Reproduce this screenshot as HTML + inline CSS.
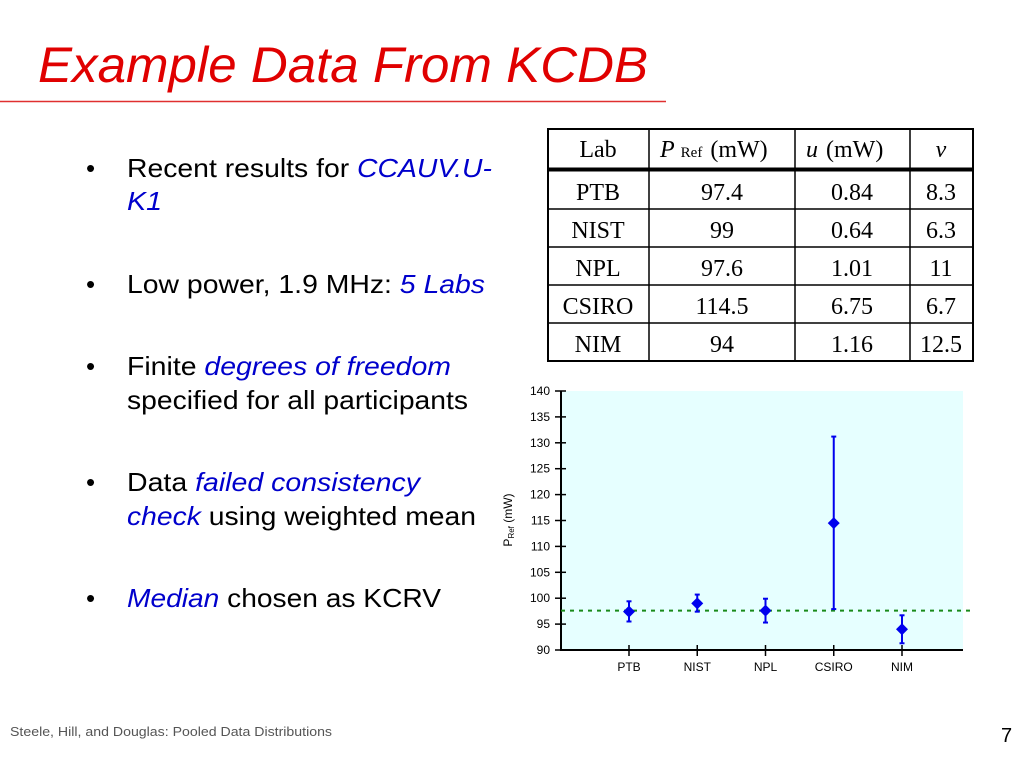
<!DOCTYPE html>
<html><head><meta charset="utf-8"><style>
html,body{margin:0;padding:0;background:#fff;}
svg{display:block;font-family:"Liberation Sans",Arial,sans-serif;}
.b{font-size:26px;fill:#000;}
.bl{fill:#0000cc;font-style:italic;}
.tt{font-family:"Liberation Serif",serif;font-size:24px;fill:#000;}
.tk{font-size:12px;fill:#000;}
</style></head><body>
<svg id="slide" width="1024" height="768" viewBox="0 0 1024 768">
<text x="38" y="82" font-size="50" font-style="italic" fill="#e00000" textLength="610" lengthAdjust="spacingAndGlyphs">Example Data From KCDB</text>
<line x1="0" y1="101.5" x2="666" y2="101.5" stroke="#e03030" stroke-width="1.5"/>

<g>
<text class="b" x="86" y="177">•</text>
<text class="b" x="127" y="177" textLength="365" lengthAdjust="spacingAndGlyphs">Recent results for <tspan class="bl">CCAUV.U-</tspan></text>
<text class="b bl" x="127" y="210" textLength="35" lengthAdjust="spacingAndGlyphs">K1</text>
<text class="b" x="86" y="293">•</text>
<text class="b" x="127" y="293" textLength="358" lengthAdjust="spacingAndGlyphs">Low power, 1.9 MHz: <tspan class="bl">5 Labs</tspan></text>
<text class="b" x="86" y="375">•</text>
<text class="b" x="127" y="375" textLength="324" lengthAdjust="spacingAndGlyphs">Finite <tspan class="bl">degrees of freedom</tspan></text>
<text class="b" x="127" y="409" textLength="341" lengthAdjust="spacingAndGlyphs">specified for all participants</text>
<text class="b" x="86" y="491">•</text>
<text class="b" x="127" y="491" textLength="293" lengthAdjust="spacingAndGlyphs">Data <tspan class="bl">failed consistency</tspan></text>
<text class="b" x="127" y="525" textLength="349" lengthAdjust="spacingAndGlyphs"><tspan class="bl">check</tspan> using weighted mean</text>
<text class="b" x="86" y="607">•</text>
<text class="b" x="127" y="607" textLength="314" lengthAdjust="spacingAndGlyphs"><tspan class="bl">Median</tspan> chosen as KCRV</text>
</g>

<g id="table">
<rect x="548" y="129" width="425" height="232" fill="#fff" stroke="#000" stroke-width="2"/>
<line x1="548" y1="169.5" x2="973" y2="169.5" stroke="#000" stroke-width="4"/>
<g stroke="#000" stroke-width="1.5">
<line x1="548" y1="209" x2="973" y2="209"/><line x1="548" y1="247" x2="973" y2="247"/>
<line x1="548" y1="285" x2="973" y2="285"/><line x1="548" y1="323" x2="973" y2="323"/>
<line x1="649" y1="129" x2="649" y2="361"/><line x1="795" y1="129" x2="795" y2="361"/>
<line x1="910" y1="129" x2="910" y2="361"/>
</g>
<text class="tt" x="598" y="157" text-anchor="middle">Lab</text>
<text class="tt" x="660" y="157"><tspan font-style="italic">P</tspan><tspan font-size="15" dx="6">Ref</tspan><tspan dx="8">(mW)</tspan></text>
<text class="tt" x="806" y="157"><tspan font-style="italic">u</tspan><tspan dx="8">(mW)</tspan></text>
<text class="tt" x="941" y="157" text-anchor="middle" font-style="italic">ν</text>
</g>

<g id="chart">
<rect x="561" y="391" width="402" height="259" fill="#e6ffff"/>
<g id="axes"></g>
<g id="marks"></g>
<text transform="translate(512,520) rotate(-90)" text-anchor="middle" font-size="12">P<tspan font-size="8" dy="2">Ref</tspan><tspan dy="-2"> (mW)</tspan></text>
</g>
<text x="10" y="736" font-size="13" fill="#555" textLength="322" lengthAdjust="spacingAndGlyphs">Steele, Hill, and Douglas: Pooled Data Distributions</text>
<text x="1001" y="742" font-size="20" fill="#000">7</text>
</svg>
<script>
const labs = ["PTB","NIST","NPL","CSIRO","NIM"];
const pref = [97.4, 99, 97.6, 114.5, 94];
const unc = ["0.84","0.64","1.01","6.75","1.16"];
const nu = ["8.3","6.3","11","6.7","12.5"];
const prefText = ["97.4","99","97.6","114.5","94"];
const errLow = [95.5, 97.4, 95.3, 97.9, 91.3];
const errHigh = [99.4, 100.7, 99.9, 131.2, 96.7];
const kcrv = 97.6;
const yTicks = [90,95,100,105,110,115,120,125,130,135,140];

const NS="http://www.w3.org/2000/svg";
function el(t,a,p){const e=document.createElementNS(NS,t);for(const k in a)e.setAttribute(k,a[k]);p.appendChild(e);return e;}
const y=v=>650-(v-90)*(259/50);
const x=i=>629+i*68.25;

const tbl=document.getElementById('table');
labs.forEach((l,i)=>{
  const yy=200+i*38;
  const cells=[[598,l],[722,prefText[i]],[852,unc[i]],[941,nu[i]]];
  cells.forEach((c,j)=>{
    const t=el('text',{class:'tt',x:c[0],y:yy,'text-anchor':'middle'},tbl);
    
    
    t.textContent=c[1];
  });
});

const ax=document.getElementById('axes');
el('line',{x1:561,y1:391,x2:561,y2:651,stroke:'#000','stroke-width':2},ax);
el('line',{x1:560,y1:650,x2:963,y2:650,stroke:'#000','stroke-width':2},ax);
yTicks.forEach(v=>{
  el('line',{x1:555,y1:y(v),x2:566,y2:y(v),stroke:'#000','stroke-width':1.5},ax);
  const t=el('text',{class:'tk',x:550,y:y(v)+4,'text-anchor':'end'},ax);
  
  
  t.textContent=v;
});
labs.forEach((l,i)=>{
  el('line',{x1:x(i),y1:645,x2:x(i),y2:656,stroke:'#000','stroke-width':1.5},ax);
  const t=el('text',{class:'tk',x:x(i),y:671,'text-anchor':'middle'},ax);
  
  
  t.textContent=l;
});
const mk=document.getElementById('marks');
const kl=el('line',{x1:561,y1:y(kcrv),x2:970,y2:y(kcrv),stroke:'#1a8a1a','stroke-width':2,'stroke-dasharray':'4,5'},mk);


pref.forEach((v,i)=>{
  const g=el('g',{},mk);
  
  
  const c='#0000ee';
  el('line',{x1:x(i),y1:y(errLow[i]),x2:x(i),y2:y(errHigh[i]),stroke:c,'stroke-width':2},g);
  el('line',{x1:x(i)-2.5,y1:y(errLow[i]),x2:x(i)+2.5,y2:y(errLow[i]),stroke:c,'stroke-width':2},g);
  el('line',{x1:x(i)-2.5,y1:y(errHigh[i]),x2:x(i)+2.5,y2:y(errHigh[i]),stroke:c,'stroke-width':2},g);
  const cx=x(i),cy=y(v);
  el('polygon',{points:`${cx},${cy-6} ${cx+6},${cy} ${cx},${cy+6} ${cx-6},${cy}`,fill:c},g);
});
</script>
</body></html>
